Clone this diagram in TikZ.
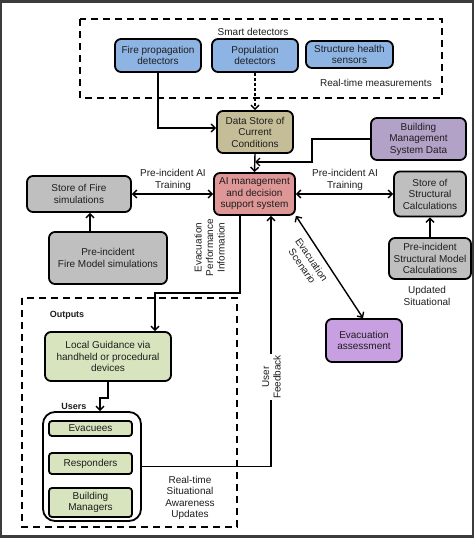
\documentclass[tikz,border=0pt]{standalone}
\usepackage{fontspec}
\setmainfont{Liberation Sans}
\usetikzlibrary{arrows.meta,calc}
\definecolor{blueF}{RGB}{141,180,226}
\definecolor{tanF}{RGB}{196,189,151}
\definecolor{pinkF}{RGB}{222,150,150}
\definecolor{purpleF}{RGB}{179,162,199}
\definecolor{grayF}{RGB}{191,191,191}
\definecolor{violetF}{RGB}{200,160,225}
\definecolor{greenF}{RGB}{215,228,189}
\definecolor{frameC}{RGB}{60,60,60}
\definecolor{txt}{RGB}{30,30,30}
\begin{document}
\begin{tikzpicture}[x=1pt,y=-1pt,
  box/.style={draw=black, line width=1.8pt, rounded corners=6pt, align=center, inner sep=1pt,
    font=\fontsize{10}{11.5}\selectfont, text=txt},
  tip/.tip={Straight Barb[length=4pt,width=8pt]},
  arr/.style={line width=1.4pt, -tip},
  arr2/.style={line width=1.4pt, tip-tip},
  lbl/.style={align=center, font=\fontsize{10}{11.5}\selectfont, inner sep=1pt, text=txt},
  blbl/.style={font=\fontsize{9}{11}\selectfont\bfseries, inner sep=1pt, text=txt},
  dbox/.style={line width=2.2pt, dash pattern=on 7pt off 5pt}]
\useasboundingbox (0,0) rectangle (474,538);
\fill[frameC] (0,0) rectangle (474,538);
\fill[white] (2,2.5) rectangle (472,535);

% dashed groups
\draw[dbox] (80,19) rectangle (442,98);
\draw[dbox] (22,298) rectangle (237,527);

% labels in groups
\node[lbl] (smart) at (253,32) {Smart detectors};
\node[lbl, anchor=east] (rtm) at (433,83) {Real-time measurements};
\node[blbl] (outl) at (67,315) {Outputs};
\node[blbl] (usl) at (74,406) {Users};

% nodes
\node[box, fill=blueF, minimum width=86pt, minimum height=33pt] (fire) at (158,55.5) {Fire propagation\\detectors};
\node[box, fill=blueF, minimum width=86pt, minimum height=33pt] (pop) at (255,55.5) {Population\\detectors};
\node[box, fill=blueF, minimum width=87pt, minimum height=27pt] (shs) at (349.5,54.5) {Structure health\\sensors};
\node[box, fill=tanF, minimum width=76pt, minimum height=42pt] (ds) at (255,132) {Data Store of\\Current\\Conditions};
\node[box, fill=purpleF, minimum width=95pt, minimum height=42pt] (bms) at (418.5,139) {Building\\Management\\System Data};
\node[box, fill=pinkF, minimum width=81pt, minimum height=42pt] (ai) at (254.5,194) {AI management\\and decision\\support system};
\node[box, fill=grayF, minimum width=104pt, minimum height=36pt] (sfs) at (79,194) {Store of Fire\\simulations};
\node[box, fill=grayF, minimum width=118pt, minimum height=52pt] (pfm) at (108,258) {Pre-incident\\Fire Model simulations};
\node[box, fill=grayF, minimum width=72pt, minimum height=45pt] (ssc) at (430,194) {Store of\\Structural\\Calculations};
\node[box, fill=grayF, minimum width=82pt, minimum height=41pt] (psm) at (430,258.5) {Pre-incident\\Structural Model\\Calculations};
\node[box, fill=violetF, minimum width=76pt, minimum height=43pt] (ea) at (364,340.5) {Evacuation\\assessment};
\node[box, fill=greenF, minimum width=126pt, minimum height=49pt] (lg) at (108,356.5) {Local Guidance via\\handheld or procedural\\devices};
\node[box, fill=white, rounded corners=12pt, minimum width=98pt, minimum height=109pt] (users) at (92,466.5) {};
\node[box, fill=greenF, rounded corners=3pt, minimum width=83pt, minimum height=15pt] (evac) at (90.5,428.5) {Evacuees};
\node[box, fill=greenF, rounded corners=3pt, minimum width=83pt, minimum height=21pt] (resp) at (90.5,463.5) {Responders};
\node[box, fill=greenF, rounded corners=3pt, minimum width=83pt, minimum height=29pt] (bm) at (90.5,502.5) {Building\\Managers};

% connectors
\coordinate (j) at (255,162);
\draw[arr] (fire.south) |- ([yshift=4pt]ds.west);
\draw[arr, dash pattern=on 3pt off 2pt] (pop.south) -- (ds.north);
\draw[arr] (ds.south) -- (ai.north);
\draw[arr] (bms.west) -- ++(-58,0) |- (j);
\draw[arr2] (sfs.east) -- (ai.west);
\draw[arr2] (ai.east) -- (ssc.west);
\draw[arr] ($(pfm.north)+(-18,0)$) -- ($(sfs.south)+(11,0)$);
\draw[arr] (psm.north) -- (ssc.south);
\draw[arr] ([xshift=-14.5pt]ai.south) -- ++(0,77) -| ([xshift=47pt]lg.north);
\draw[arr] (lg.south) -- ++(0,16) -| ([xshift=8pt]users.north);
\draw[arr] (users.east) -| ([xshift=16.5pt]ai.south);
\draw[arr2] (ai.south east) -- ([xshift=-1pt]ea.north);

% connector labels
\node[lbl] (l1) at (173,180) {Pre-incident AI\\Training};
\node[lbl] (l2) at (345,180) {Pre-incident AI\\Training};
\node[lbl] (l3) at (427,296) {Updated\\Situational};
\node[lbl, rotate=90] (l4) at (209.5,247.5) {Evacuation\\Performance\\Information};
\node[lbl, rotate=-55.8] (l5) at (307,263) {Evacuation\\Scenario};
\node[lbl, rotate=90, fill=white] (l6) at (271.5,377) {User\\Feedback};
\node[lbl] (l7) at (190,498) {Real-time\\Situational\\Awareness\\Updates};
\end{tikzpicture}
\end{document}
